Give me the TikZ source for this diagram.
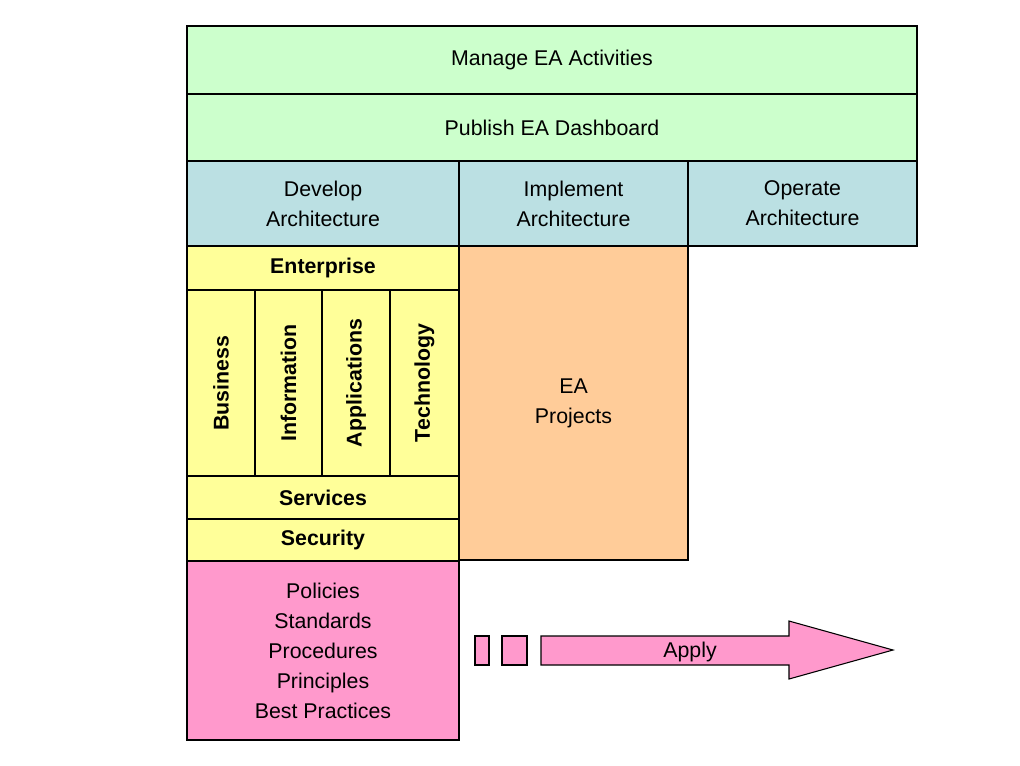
\documentclass[tikz,border=0pt]{standalone}
\usepackage{fontspec}
\setmainfont{Liberation Sans}
\definecolor{cgreen}{HTML}{CCFFCC}
\definecolor{cblue}{HTML}{BBE0E3}
\definecolor{cyellow}{HTML}{FFFF99}
\definecolor{corange}{HTML}{FFCC99}
\definecolor{cpink}{HTML}{FF99CC}
\tikzset{box/.style={draw=black,line width=0.8pt},
lbl/.style={font=\fontsize{16}{22.5}\selectfont,align=center,text=black},
blbl/.style={font=\fontsize{16}{22.5}\selectfont\bfseries,align=center}}
\begin{document}
\begin{tikzpicture}[x=0.75pt,y=-0.75pt]
\useasboundingbox (0,0) rectangle (1020,765);
\draw[box,fill=cgreen] (187,26) rectangle node[lbl](manage){Manage EA Activities} (917,94);
\draw[box,fill=cgreen] (187,94) rectangle node[lbl](publish){Publish EA Dashboard} (917,161);
\draw[box,fill=cblue] (187,161) rectangle node[lbl](develop){Develop\\Architecture} (459,246);
\draw[box,fill=cblue] (459,161) rectangle node[lbl](implement){Implement\\Architecture} (688,246);
\draw[box,fill=cblue] (688,161) rectangle node[lbl](operate){Operate\\Architecture} (917,246);
\draw[box,fill=corange] (459,246) rectangle node[lbl](proj){EA\\Projects} (688,560);
\draw[box,fill=cyellow] (187,246) rectangle node[blbl](ent){Enterprise} (459,290);
\draw[box,fill=cyellow] (187,290) rectangle node[blbl,rotate=90](bus){Business} (255,476);
\draw[box,fill=cyellow] (255,290) rectangle node[blbl,rotate=90](inf){Information} (322,476);
\draw[box,fill=cyellow] (322,290) rectangle node[blbl,rotate=90](app){Applications} (390,476);
\draw[box,fill=cyellow] (390,290) rectangle node[blbl,rotate=90](tech){Technology} (459,476);
\draw[box,fill=cyellow] (187,476) rectangle node[blbl](serv){Services} (459,519);
\draw[box,fill=cyellow] (187,519) rectangle node[blbl](sec){Security} (459,561);
\draw[box,fill=cpink] (187,561) rectangle node[lbl](pol){Policies\\Standards\\Procedures\\Principles\\Best Practices} (459,740);
\draw[box,fill=cpink] (475,636) rectangle (489,665);
\draw[box,fill=cpink] (502,636) rectangle (527,665);
\draw[box,fill=cpink] (541,636) -- (789,636) -- (789,621) -- (893,650) -- (789,679) -- (789,665) -- (541,665) -- cycle;
\node[lbl] (apply) at (690,652) {Apply};
\end{tikzpicture}
\end{document}
